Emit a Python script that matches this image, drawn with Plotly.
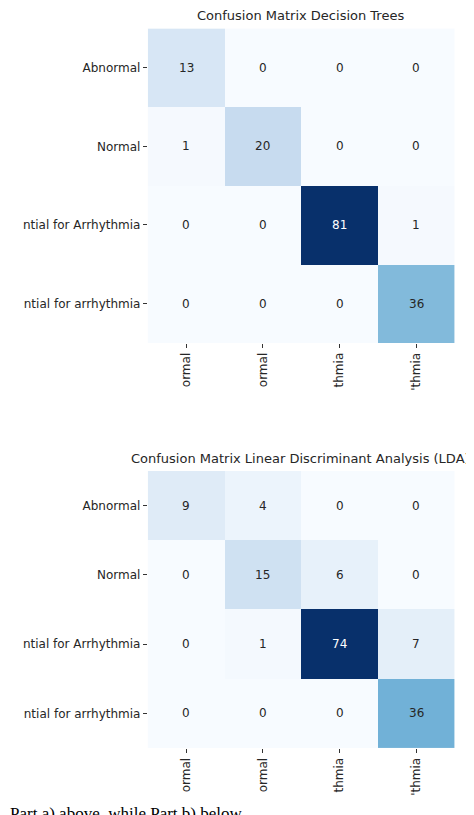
import plotly.graph_objects as go
import plotly.express as px

# labels as visible in the (cropped) reference
y_labels = ["Abnormal", "Normal", "ntial for Arrhythmia", "ntial for arrhythmia"]
x_labels = ["ormal", "ormal", "thmia", "'thmia"]

cm_tree = [[13, 0, 0, 0],
           [1, 20, 0, 0],
           [0, 0, 81, 1],
           [0, 0, 0, 36]]
cm_lda = [[9, 4, 0, 0],
          [0, 15, 6, 0],
          [0, 1, 74, 7],
          [0, 0, 0, 36]]

titles = ["Confusion Matrix Decision Trees",
          "Confusion Matrix Linear Discriminant Analysis (LDA)"]

blues = px.colors.sequential.Blues
scale = [[i / (len(blues) - 1), c] for i, c in enumerate(blues)]
font = "DejaVu Sans, sans-serif"

fig = go.Figure()
domains = [(0.589, 0.975), (0.092, 0.432)]
for k, (cm, dom) in enumerate(zip([cm_tree, cm_lda], domains)):
    xa = "x" if k == 0 else "x2"
    ya = "y" if k == 0 else "y2"
    zmax = max(max(r) for r in cm)
    fig.add_trace(go.Heatmap(z=cm, x=list(range(4)), y=list(range(4)), colorscale=scale,
                             zmin=0, zmax=zmax, showscale=False,
                             xaxis=xa, yaxis=ya))
    for i, row in enumerate(cm):
        for j, v in enumerate(row):
            fig.add_annotation(x=j, y=i, xref=xa, yref=ya, text=str(v), showarrow=False,
                               font=dict(family=font, size=12,
                                         color="white" if v > zmax * 0.6 else "#262626"))
    axis_x = dict(domain=[0.295, 0.942], tickvals=list(range(4)), ticktext=x_labels,
                  tickangle=-90, ticks="outside", ticklen=4, tickcolor="#333",
                  showgrid=False, zeroline=False, anchor=ya,
                  tickfont=dict(family=font, size=12, color="#262626"))
    axis_y = dict(domain=list(dom), tickvals=list(range(4)), ticktext=y_labels,
                  autorange="reversed", ticks="outside", ticklen=4, tickcolor="#333",
                  showgrid=False, zeroline=False, anchor=xa,
                  tickfont=dict(family=font, size=12, color="#262626"))
    if k == 0:
        fig.update_layout(xaxis=axis_x, yaxis=axis_y)
    else:
        fig.update_layout(xaxis2=axis_x, yaxis2=axis_y)
    fig.add_annotation(x=0.618, y=dom[1] + 0.004, xref="paper", yref="paper", text=titles[k],
                       showarrow=False, yanchor="bottom",
                       font=dict(family=font, size=13, color="#262626"))

fig.add_annotation(x=0.0, y=0.026, xref="paper", yref="paper", xanchor="left", yanchor="top",
                   text="Part a) above, while Part b) below.", showarrow=False,
                   font=dict(family="Liberation Serif, serif", size=17, color="black"))

fig.update_layout(width=474, height=815, margin=dict(l=0, r=0, t=0, b=0),
                  paper_bgcolor="white", plot_bgcolor="white")
fig.write_html("out.html")
